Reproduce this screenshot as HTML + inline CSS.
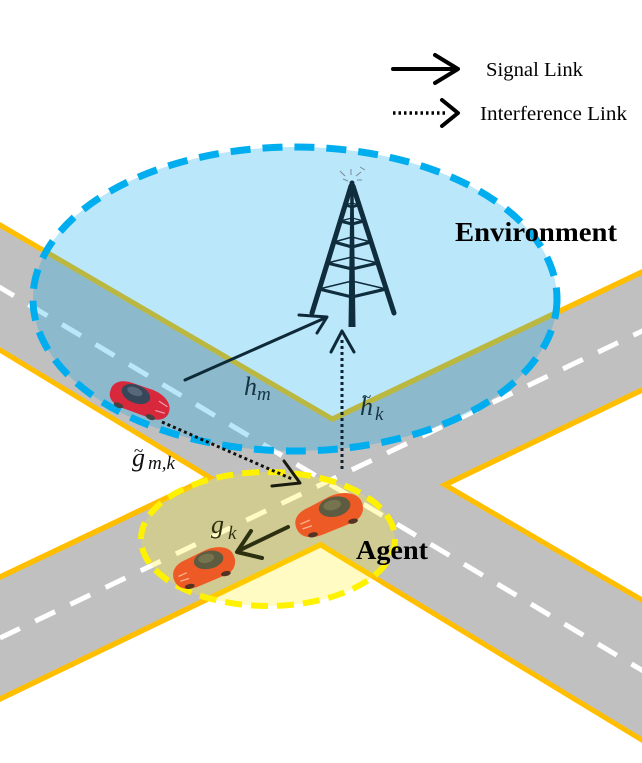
<!DOCTYPE html>
<html><head><meta charset="utf-8"><style>
html,body{margin:0;padding:0;background:#fff;}
svg{display:block;}
</style></head><body>
<svg width="642" height="763" viewBox="0 0 642 763" xmlns="http://www.w3.org/2000/svg">
<rect width="642" height="763" fill="#fff"/>
<!-- roads -->
<polygon points="0,222 642,597 642,743 0,353" fill="#FFBE00"/>
<polygon points="0,574 642,269 642,393 0,702" fill="#FFBE00"/>
<polygon points="0,228 642,603 642,737 0,347" fill="#C0C0C0"/>
<polygon points="0,580 642,275 642,387 0,696" fill="#C0C0C0"/>
<line x1="-5" y1="284.5" x2="650" y2="675" stroke="#fff" stroke-width="5" stroke-dasharray="22 17"/>
<line x1="0" y1="638" x2="650" y2="327.3" stroke="#fff" stroke-width="5" stroke-dasharray="22 17"/>

<!-- environment ellipse -->
<ellipse cx="295" cy="299" rx="262" ry="152" fill="rgba(10,170,238,0.28)" stroke="#00AEEF" stroke-width="7" stroke-dasharray="20 12"/>
<!-- agent ellipse -->
<ellipse cx="268" cy="539" rx="127" ry="67" fill="rgba(255,240,0,0.24)" stroke="#FFF200" stroke-width="6" stroke-dasharray="17 9"/>

<!-- tower -->
<g stroke="#0F2D3C" fill="none" stroke-linecap="round" stroke-linejoin="round">
  <line x1="351" y1="186" x2="312" y2="313" stroke-width="5"/>
  <line x1="353" y1="186" x2="394" y2="313" stroke-width="5"/>
  <polygon points="350.5,183 353.5,183 355.5,327 348.5,327" fill="#0F2D3C" stroke="none"/>
  <polyline points="345,205 352,207 359,205" stroke-width="2.5"/>
  <polyline points="345,205 352,203 359,205" stroke-width="1.2"/>
  <polyline points="340,221 352,224 364,221" stroke-width="3"/>
  <polyline points="340,221 352,218 364,221" stroke-width="1.3"/>
  <polyline points="334,242 352,247 371,242" stroke-width="3"/>
  <polyline points="334,242 352,237 371,242" stroke-width="1.5"/>
  <polyline points="327,263 352,269 378,263" stroke-width="3"/>
  <polyline points="327,263 352,257 378,263" stroke-width="1.5"/>
  <polyline points="319,289 352,297 386,289" stroke-width="3.2"/>
  <polyline points="319,289 352,281 386,289" stroke-width="1.6"/>
  <circle cx="352" cy="183" r="2.5" fill="#0F2D3C" stroke="none"/>
</g>
<g stroke="#7a8a95" stroke-width="1" fill="none">
  <line x1="340" y1="171" x2="345" y2="176"/>
  <line x1="343" y1="179" x2="348" y2="181"/>
  <line x1="351" y1="169" x2="351" y2="175"/>
  <line x1="356" y1="176" x2="361" y2="172"/>
  <line x1="360" y1="167" x2="365" y2="170"/>
  <line x1="357" y1="180" x2="362" y2="180"/>
</g>

<!-- cars -->
<g transform="translate(140,400) rotate(22)">
  <path d="M-31,2 C-32,-6 -26,-12 -14,-13 L6,-14 C18,-15 29,-10 31,-2 C33,6 28,12 18,13 L-14,14 C-25,14 -31,9 -31,2 Z" fill="#D8283C"/>
  <ellipse cx="-6" cy="-4" rx="15" ry="9" fill="#37475A"/>
  <ellipse cx="-8" cy="-6" rx="8" ry="4" fill="#56687A"/>
  <path d="M18,-6 L28,-4 M18,4 L28,3" stroke="#F0A0A8" stroke-width="1.2"/>
  <ellipse cx="-18" cy="13" rx="5" ry="2.5" fill="#444"/>
  <ellipse cx="16" cy="12" rx="5" ry="2.5" fill="#444"/>
</g>
<g transform="translate(329,514) rotate(-12)">
  <path d="M-35,6 C-36,-3 -29,-9 -17,-11 L4,-17 C17,-20 31,-16 34,-7 C37,2 32,10 23,13 L-11,19 C-25,21 -34,16 -35,6 Z" fill="#EE5A26"/>
  <ellipse cx="7" cy="-6" rx="16" ry="10" fill="#5E5C40"/>
  <ellipse cx="5" cy="-8" rx="9" ry="5" fill="#76744F"/>
  <path d="M-30,4 L-20,2 M-29,9 L-19,8" stroke="#FFB090" stroke-width="1.3"/>
  <ellipse cx="-20" cy="17" rx="5" ry="2.5" fill="#553322"/>
  <ellipse cx="22" cy="12" rx="5" ry="2.5" fill="#553322"/>
</g>
<g transform="translate(204,567) rotate(-12)">
  <path d="M-32,6 C-33,-3 -27,-9 -16,-11 L4,-16 C16,-19 29,-15 31,-7 C34,2 29,10 21,12 L-10,18 C-23,20 -31,15 -32,6 Z" fill="#EE5A26"/>
  <ellipse cx="6" cy="-6" rx="15" ry="9" fill="#5E5C40"/>
  <ellipse cx="4" cy="-8" rx="8" ry="4.5" fill="#76744F"/>
  <path d="M-27,4 L-18,2 M-26,9 L-17,8" stroke="#FFB090" stroke-width="1.3"/>
  <ellipse cx="-18" cy="16" rx="5" ry="2.5" fill="#553322"/>
  <ellipse cx="20" cy="11" rx="5" ry="2.5" fill="#553322"/>
</g>

<!-- signal arrow h_m -->
<g stroke="#0E2A38" stroke-width="3" fill="none" stroke-linecap="round" stroke-linejoin="round">
  <line x1="185" y1="380" x2="325" y2="318"/>
  <polyline points="299,315 327,317 317,333"/>
</g>
<!-- vertical interference arrow -->
<line x1="342" y1="340" x2="342" y2="472" stroke="#0E2230" stroke-width="3" stroke-dasharray="3 3"/>
<polyline points="331,352 342,331 354,352" stroke="#0E2A38" stroke-width="3" fill="none" stroke-linecap="round" stroke-linejoin="round"/>
<!-- interference arrow g~ -->
<line x1="162" y1="422" x2="292" y2="479" stroke="#111" stroke-width="3" stroke-dasharray="3 3"/>
<g stroke="#1a1a10" stroke-width="3" fill="none" stroke-linecap="round" stroke-linejoin="round">
  <polyline points="284,461 300,483 272,486"/>
</g>
<!-- g_k arrow -->
<g stroke="#2D3010" stroke-width="4" fill="none" stroke-linecap="round" stroke-linejoin="round">
  <line x1="288" y1="527" x2="238" y2="551"/>
  <polyline points="251,531 237,552 262,558"/>
</g>

<!-- labels -->
<g font-family="Liberation Serif, serif" font-style="italic" fill="#153444">
  <text x="244" y="395" font-size="26">h</text>
  <text x="257" y="400" font-size="19">m</text>
  <text x="360" y="415" font-size="26">h</text>
  <text x="362" y="402" font-size="17" font-style="normal">~</text>
  <text x="375" y="420" font-size="19">k</text>
</g>
<g font-family="Liberation Serif, serif" font-style="italic" fill="#111">
  <text x="132" y="466" font-size="26">g</text>
  <text x="134" y="456" font-size="17" font-style="normal">~</text>
  <text x="148" y="469" font-size="19">m,k</text>
</g>
<g font-family="Liberation Serif, serif" font-style="italic" fill="#2D3010">
  <text x="211" y="533" font-size="26">g</text>
  <text x="228" y="539" font-size="19">k</text>
</g>

<text x="455" y="241" font-family="Liberation Serif, serif" font-weight="bold" font-size="27" textLength="162" lengthAdjust="spacingAndGlyphs" fill="#000">Environment</text>
<text x="356" y="559" font-family="Liberation Serif, serif" font-weight="bold" font-size="27" textLength="72" lengthAdjust="spacingAndGlyphs" fill="#000">Agent</text>

<!-- legend -->
<g stroke="#000" fill="none" stroke-linecap="round" stroke-linejoin="round">
  <line x1="393" y1="69" x2="456" y2="69" stroke-width="4"/>
  <polyline points="435,55 458,69 435,83" stroke-width="4"/>
  <line x1="393" y1="113" x2="448" y2="113" stroke-width="3.5" stroke-dasharray="2.5 3" stroke-linecap="butt"/>
  <polyline points="442,100 458,113 442,126" stroke-width="4"/>
</g>
<text x="486" y="76" font-family="Liberation Serif, serif" font-size="20.5" textLength="97" lengthAdjust="spacingAndGlyphs" fill="#000">Signal Link</text>
<text x="480" y="120" font-family="Liberation Serif, serif" font-size="20.5" textLength="147" lengthAdjust="spacingAndGlyphs" fill="#000">Interference Link</text>
</svg>
</body></html>
